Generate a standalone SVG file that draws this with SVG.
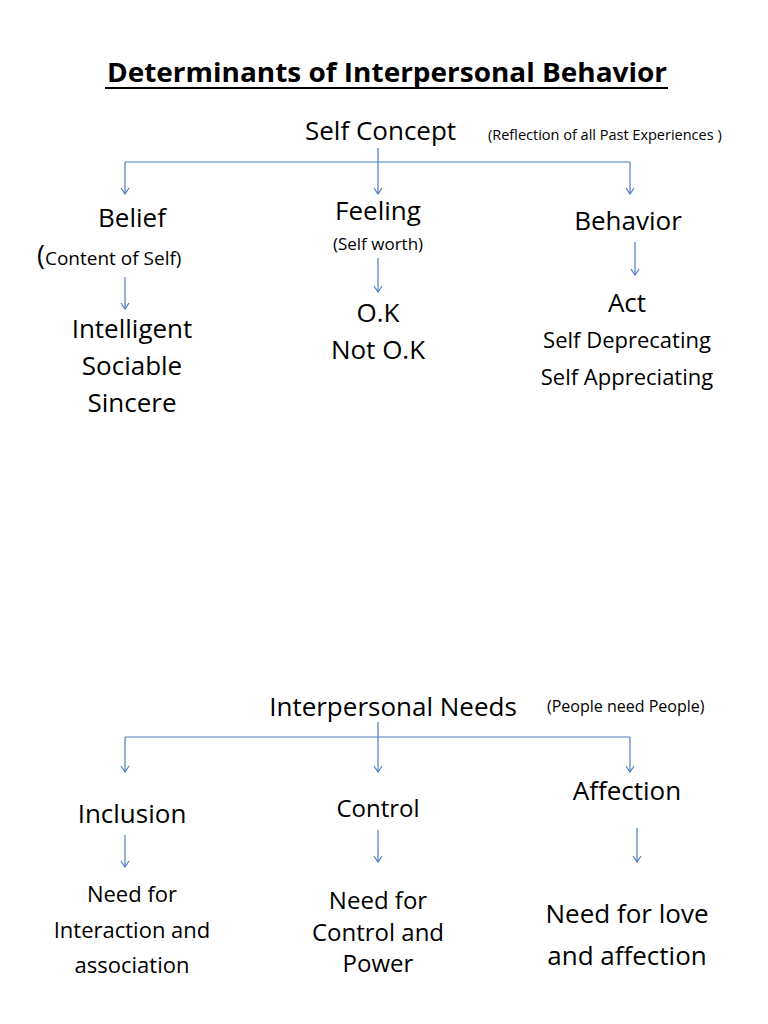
<svg xmlns="http://www.w3.org/2000/svg" width="768" height="1024" viewBox="0 0 768 1024">
<defs>
<marker id="av" markerWidth="10" markerHeight="10" refX="9" refY="5" orient="auto" markerUnits="userSpaceOnUse" viewBox="0 0 10 10">
<path d="M3,1 L9,5 L3,9" fill="none" stroke="#4a7ebb" stroke-width="1.2"/>
</marker>
</defs>
<style>
text{font-family:"Open Sans",Lato,"Liberation Sans",sans-serif;fill:#000;text-anchor:middle}
text.s{text-anchor:start}
.l{stroke:#4a7ebb;stroke-width:1.2;fill:none}
.a{stroke:#4a7ebb;stroke-width:1.2;fill:none;marker-end:url(#av)}
</style>
<rect width="768" height="1024" fill="#fff"/>
<g id="title"><text x="387" y="82" font-size="27" font-weight="bold" textLength="560" lengthAdjust="spacingAndGlyphs">Determinants of Interpersonal Behavior</text>
<line x1="105" y1="88" x2="668" y2="88" stroke="#000" stroke-width="2"/></g>
<g id="connectors">
<path class="l" d="M378,148 V162 M125,162 H630"/>
<path class="a" d="M125,162 V194"/><path class="a" d="M378,162 V194"/><path class="a" d="M630,162 V194"/>
<path class="a" d="M125,277 V309"/><path class="a" d="M378,258 V292"/><path class="a" d="M635,242 V275"/>
<path class="l" d="M378,722 V737 M125,737 H630"/>
<path class="a" d="M125,737 V772"/><path class="a" d="M378,737 V772"/><path class="a" d="M630,737 V772"/>
<path class="a" d="M125,835 V867"/><path class="a" d="M378,830 V862"/><path class="a" d="M637,828 V862"/>
</g>
<g id="selfconcept"><text class="s" x="305" y="140" font-size="26">Self Concept</text>
<text class="s" x="488" y="140" font-size="14.5">(Reflection of all Past Experiences )</text></g>
<g id="belief"><text x="132" y="227" font-size="26">Belief</text>
<text class="s" x="37" y="265"><tspan font-size="27">(</tspan><tspan font-size="19">Content of Self)</tspan></text></g>
<g id="belief-items"><text x="132" y="338" font-size="26">Intelligent</text><text x="132" y="375" font-size="26">Sociable</text><text x="132" y="412" font-size="26">Sincere</text></g>
<g id="feeling"><text x="378" y="220" font-size="26">Feeling</text><text x="378" y="250" font-size="17">(Self worth)</text></g>
<g id="ok"><text x="378" y="322" font-size="26">O.K</text><text x="378" y="359" font-size="26">Not O.K</text></g>
<g id="behavior"><text x="628" y="230" font-size="26">Behavior</text></g>
<g id="act"><text x="627" y="312" font-size="26">Act</text><text x="627" y="348" font-size="22">Self Deprecating</text><text x="627" y="385" font-size="22">Self Appreciating</text></g>
<g id="needs"><text x="393" y="716" font-size="26">Interpersonal Needs</text><text class="s" x="547" y="712" font-size="16">(People need People)</text></g>
<g id="inclusion"><text x="132" y="823" font-size="26">Inclusion</text></g>
<g id="inclusion-need"><text x="132" y="902" font-size="22">Need for</text><text x="132" y="938" font-size="22">Interaction and</text><text x="132" y="973" font-size="22">association</text></g>
<g id="control"><text x="378" y="817" font-size="24">Control</text></g>
<g id="control-need"><text x="378" y="909" font-size="24">Need for</text><text x="378" y="941" font-size="24">Control and</text><text x="378" y="972" font-size="24">Power</text></g>
<g id="affection"><text x="627" y="800" font-size="26">Affection</text></g>
<g id="affection-need"><text x="627" y="923" font-size="26">Need for love</text><text x="627" y="965" font-size="26">and affection</text></g>
</svg>
